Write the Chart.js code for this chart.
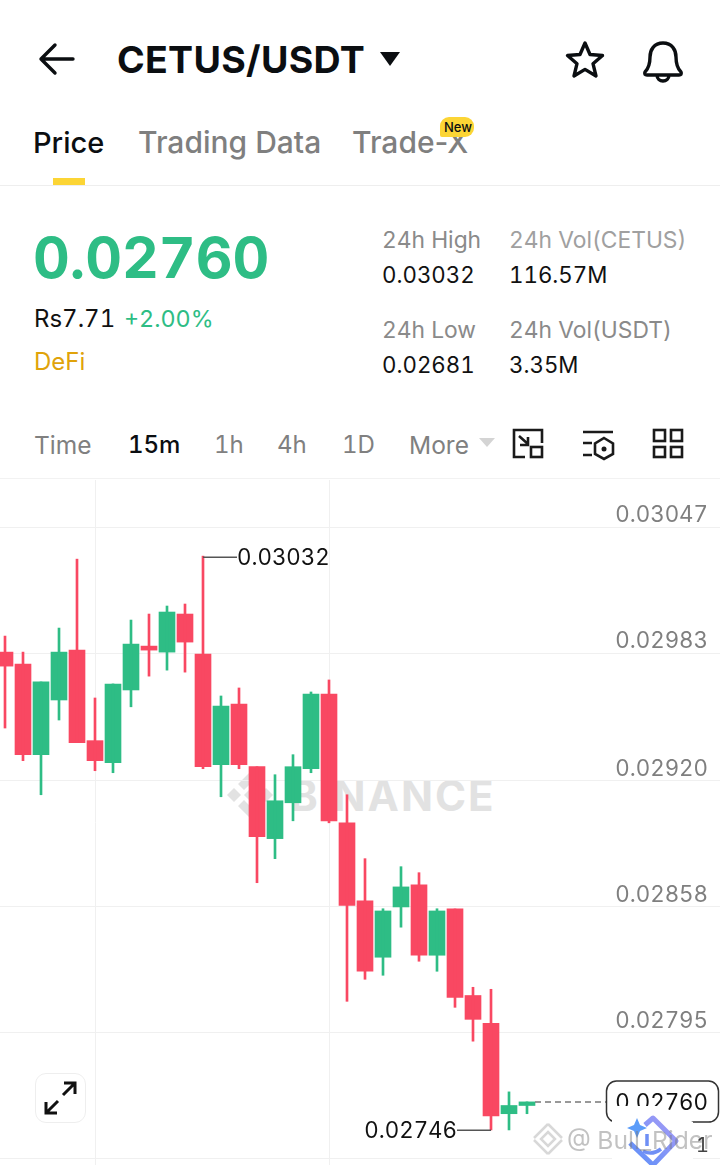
<!DOCTYPE html>
<html>
<head>
<meta charset="utf-8">
<title>CETUS/USDT</title>
<script src="https://cdn.jsdelivr.net/npm/chart.js@4/dist/chart.umd.min.js"></script>
<style>
  html, body { margin: 0; padding: 0; background: #fff; }
  body { width: 720px; height: 1165px; position: relative; overflow: hidden; font-family: Inter, sans-serif; color: #0b0e11; font-variant-numeric: tabular-nums; }
  .t { position: absolute; transform: translateY(-50%); white-space: nowrap; line-height: 1; }
  .gray { color: #7f7f7f; }
  .stat-label { font-size: 22.8px; color: #8a8a8a; }
  .stat-value { font-size: 22.3px; color: #111; }
  .tf { font-size: 24px; color: #808080; }
  svg { position: absolute; overflow: visible; }
  #chart { position: absolute; left: 0; top: 480px; }
</style>
</head>
<body>

<!-- header -->
<svg style="left:0;top:0" width="720" height="200" fill="none" stroke="#0b0e11" stroke-width="3.4" stroke-linecap="round" stroke-linejoin="round">
  <path d="M73 59H41M55 45L41 59L55 73"/>
  <path d="M380 52H400L390 66Z" fill="#0b0e11" stroke="none"/>
  <path d="M585 43l5 11.5 12.5 1-9.5 8.2 3 12.3-11-6.6-11 6.6 3-12.3-9.5-8.2 12.500-1z"/>
  <path d="M663 43c-9 0-13 7-13 14 0 8-2 12-5 15-1 2 0 3 2 3h32c2 0 3-1 2-3-3-3-5-7-5-15 0-7-4-14-13-14zM657 75c0 4 3 6 6 6s6-2 6-6"/>
</svg>
<span class="t" style="left:117px;top:60px;font-size:37.5px;font-weight:700;letter-spacing:0.3px">CETUS/USDT</span>

<span class="t" style="left:33px;top:142px;font-size:29px;font-weight:500">Price</span>
<span class="t gray" style="left:138px;top:142px;font-size:30px;font-weight:500">Trading Data</span>
<span class="t gray" style="left:352px;top:142px;font-size:30px;font-weight:500;font-variant-numeric:normal">Trade-X</span>
<div style="position:absolute;left:440px;top:117px;width:34px;height:20px;background:#fcd535;border-radius:9px 9px 9px 2px"></div>
<span class="t" style="left:444px;top:127px;font-size:13px;font-weight:500">New</span>
<div style="position:absolute;left:53px;top:178px;width:32px;height:7px;background:#fcd535"></div>
<div style="position:absolute;left:0;top:185px;width:720px;height:1px;background:#eeeeee"></div>

<!-- price block -->
<span class="t" style="left:33px;top:257px;font-size:57px;font-weight:700;color:#2ebd85">0.02760</span>
<span class="t" style="left:34px;top:319px;font-size:24px;color:#111">Rs7.71</span>
<span class="t" style="left:124px;top:319px;font-size:23.3px;color:#2ebd85">+2.00%</span>
<span class="t" style="left:34px;top:362px;font-size:24px;color:#e0a30a">DeFi</span>

<span class="t stat-label" style="left:382px;top:240px">24h High</span>
<span class="t stat-value" style="left:382px;top:275px">0.03032</span>
<span class="t stat-label" style="left:382px;top:330px">24h Low</span>
<span class="t stat-value" style="left:382px;top:365px">0.02681</span>
<span class="t stat-label" style="left:509px;top:240px;color:#a0a0a0">24h Vol(CETUS)</span>
<span class="t stat-value" style="left:509px;top:275px">116.57M</span>
<span class="t stat-label" style="left:509px;top:330px">24h Vol(USDT)</span>
<span class="t stat-value" style="left:509px;top:365px">3.35M</span>

<!-- timeframe row -->
<span class="t tf" style="left:34px;top:445px;font-size:24.5px">Time</span>
<span class="t tf" style="left:128px;top:445px;color:#0b0e11;font-weight:500">15m</span>
<span class="t tf" style="left:214px;top:445px">1h</span>
<span class="t tf" style="left:277px;top:445px">4h</span>
<span class="t tf" style="left:342px;top:445px">1D</span>
<span class="t tf" style="left:409px;top:445px;font-size:24.5px">More</span>
<svg style="left:0;top:400px" width="720" height="80" fill="none" stroke="#1a1a1a" stroke-width="2.6">
  <path d="M479 38H495L487 47Z" fill="#d4d4d4" stroke="none"/>
  <path d="M525 57H514V30H542V43M519 36L528 44M528 37V45H520"/>
  <rect x="531" y="47" width="11" height="10"/>
  <path d="M583 32H613M583 43H592M583 55H592"/>
  <path d="M604 38L613 43.500V54L604 59L595 54V43.500Z"/>
  <circle cx="604" cy="49" r="2.500" fill="#1a1a1a" stroke="none"/>
  <rect x="654" y="30" width="11" height="11"/>
  <rect x="671" y="30" width="11" height="11"/>
  <rect x="654" y="47" width="11" height="10"/>
  <rect x="671" y="47" width="11" height="10"/>
</svg>
<div style="position:absolute;left:0;top:478px;width:720px;height:1px;background:#f2f2f2"></div>

<!-- BINANCE watermark sits under the chart -->
<svg style="left:225px;top:770px" width="50" height="50" fill="#e2e2e2">
  <path d="M25 2L37 14L31 20L25 14L19 20L13 14Z"/>
  <path d="M25 48L37 36L31 30L25 36L19 30L13 36Z"/>
  <path d="M2 25L9 18L16 25L9 32Z"/>
  <path d="M48 25L41 18L34 25L41 32Z"/>
  <path d="M25 19L31 25L25 31L19 25Z"/>
</svg>
<span class="t" style="left:290px;top:796px;font-size:42px;font-weight:700;color:#e2e2e2;letter-spacing:2px">BINANCE</span>

<canvas id="chart" width="720" height="685"></canvas>

<!-- expand button -->
<div style="position:absolute;left:35px;top:1073px;width:49px;height:48px;border:1.5px solid #eeeeee;border-radius:11px;background:#fff"></div>
<svg style="left:35px;top:1073px" width="51" height="50" fill="none" stroke="#111" stroke-width="3">
  <path d="M40 10L28 22M29 10H40V21M11 40L23 28M11 29V40H22"/>
</svg>

<!-- bottom right overlay: white patch, blue badge and repost credit -->
<svg style="left:0;top:1075px" width="720" height="90">
  <defs>
    <linearGradient id="badge" x1="0" y1="1" x2="1" y2="0">
      <stop offset="0" stop-color="#5b8ff9"/>
      <stop offset="1" stop-color="#a79bf5"/>
    </linearGradient>
  </defs>
  <path d="M612 90V31H662L693 47V90Z" fill="#fff"/>
  <path d="M645 50L653 43L676 66L653 90L630 68" fill="none" stroke="url(#badge)" stroke-width="5" stroke-linejoin="round"/>
  <path d="M637 43L640 50L647 53L640 56L637 63L634 56L627 53L634 50Z" fill="#5b9cf9"/>
  <path d="M647 59V71M643 76Q652 81 661 74" fill="none" stroke="#6f8ff5" stroke-width="3.500"/>
  <g fill="none" stroke="#d8d8d8" stroke-width="2.500" transform="translate(0,3)">
    <path d="M548 54L555 61L548 68L541 61Z"/>
    <path d="M548 46L562 60M548 76L562 62M548 46L534 60M548 76L534 62"/>
  </g>
</svg>
<span class="t" style="left:567px;top:1140px;font-size:24.6px;color:rgba(120,120,120,0.45)">@ Bull_Rider</span>
<span class="t" style="left:696px;top:1145px;font-size:20px;color:#444">1</span>

<script>
// candles, oldest first, prices
const candleIndex = [0, 1, 2, 3, 4, 5, 6, 7, 8, 9, 10, 11, 12, 13, 14, 15, 16, 17, 18, 19, 20, 21, 22, 23, 24, 25, 26, 27, 28, 29];
const opens = [0.029846, 0.029786, 0.029334, 0.029607, 0.029856, 0.029404, 0.029294, 0.029657, 0.029876, 0.029846, 0.030036, 0.029836, 0.029284, 0.029587, 0.029274, 0.028915, 0.029094, 0.029264, 0.029637, 0.028994, 0.028604, 0.028323, 0.028574, 0.028684, 0.028333, 0.028564, 0.028132, 0.027993, 0.027542, 0.027583];
const closes = [0.029776, 0.029334, 0.029697, 0.029846, 0.029394, 0.029304, 0.029687, 0.029886, 0.029856, 0.030046, 0.029896, 0.029274, 0.029577, 0.029284, 0.028925, 0.029104, 0.029274, 0.029637, 0.029004, 0.028582, 0.028253, 0.028554, 0.028674, 0.028333, 0.028554, 0.028123, 0.028013, 0.027531, 0.027583, 0.027601];
const highs = [0.029926, 0.029846, 0.029697, 0.029966, 0.030310, 0.029617, 0.029687, 0.030006, 0.030036, 0.030076, 0.030086, 0.030325, 0.029627, 0.029667, 0.029274, 0.029234, 0.029334, 0.029647, 0.029707, 0.029134, 0.028815, 0.028565, 0.028775, 0.028745, 0.028565, 0.028564, 0.028173, 0.028163, 0.027651, 0.027601];
const lows = [0.029467, 0.029304, 0.029134, 0.029507, 0.029394, 0.029254, 0.029244, 0.029573, 0.029726, 0.029756, 0.029746, 0.029264, 0.029124, 0.029264, 0.028695, 0.028815, 0.029004, 0.029244, 0.028994, 0.028103, 0.028213, 0.028233, 0.028473, 0.028303, 0.028253, 0.028073, 0.027904, 0.027461, 0.027461, 0.027542];
// the grid is evenly spaced, the labels are the app's rounded values
const gridPrices = [0.03047, 0.029841, 0.029203, 0.028574, 0.027945, 0.027316];
const priceLabels = ["0.03047", "0.02983", "0.02920", "0.02858", "0.02795", ""];
const timeGridAt = [5, 18];

const highMark = { index: 11, price: 0.03032, text: "0.03032" };
const lowMark = { index: 27, price: 0.02746, text: "0.02746" };
const lastPrice = 0.0276;

const up = "#2ebd85";
const down = "#f94862";
const axisFont = { family: "Inter", size: 22.3 };

const colors = opens.map((o, i) => (closes[i] >= o ? up : down));

// high/low callouts and the last price tag
const markers = {
  id: "markers",
  afterDatasetsDraw(chart) {
    const { ctx, scales } = chart;
    const x = scales.x;
    const y = scales.y;
    ctx.save();
    ctx.font = axisFont.size + "px " + axisFont.family;
    ctx.textBaseline = "middle";
    ctx.strokeStyle = "#555";
    ctx.fillStyle = "#111";
    ctx.lineWidth = 1.5;

    const hx = x.getPixelForValue(highMark.index);
    const hy = y.getPixelForValue(highMark.price);
    ctx.beginPath();
    ctx.moveTo(hx, hy);
    ctx.lineTo(hx + 34, hy);
    ctx.stroke();
    ctx.textAlign = "left";
    ctx.fillText(highMark.text, hx + 34, hy + 1);

    const lx = x.getPixelForValue(lowMark.index);
    const ly = y.getPixelForValue(lowMark.price);
    ctx.beginPath();
    ctx.moveTo(lx, ly);
    ctx.lineTo(lx - 34, ly);
    ctx.stroke();
    ctx.textAlign = "right";
    ctx.fillText(lowMark.text, lx - 34, ly + 1);

    const py = y.getPixelForValue(lastPrice);
    ctx.setLineDash([6, 4]);
    ctx.strokeStyle = "#777";
    ctx.beginPath();
    ctx.moveTo(x.getPixelForValue(candleIndex[29]) + 8, py);
    ctx.lineTo(606, py);
    ctx.stroke();
    ctx.setLineDash([]);
    ctx.strokeStyle = "#333";
    ctx.fillStyle = "#fff";
    ctx.beginPath();
    ctx.roundRect(606.5, py - 21, 112, 41, 10);
    ctx.fill();
    ctx.stroke();
    ctx.fillStyle = "#111";
    ctx.textAlign = "right";
    ctx.fillText(lastPrice.toFixed(5), 708, py + 1);
    ctx.restore();
  },
};

new Chart(document.getElementById("chart"), {
  type: "bar",
  data: {
    datasets: [
      {
        data: candleIndex.map((i) => ({ x: i, y: [lows[i], highs[i]] })),
        backgroundColor: colors,
        barThickness: 2,
        grouped: false,
      },
      {
        data: candleIndex.map((i) => ({ x: i, y: [opens[i], closes[i]] })),
        backgroundColor: colors,
        barThickness: 16,
        grouped: false,
      },
    ],
  },
  options: {
    responsive: false,
    animation: false,
    devicePixelRatio: 1,
    layout: { padding: 0 },
    plugins: { legend: { display: false }, tooltip: { enabled: false } },
    scales: {
      x: {
        type: "linear",
        offset: false,
        min: -5 / 18,
        max: 715 / 18,
        border: { display: false },
        grid: { color: "#f0f0f0", offset: false, drawTicks: false },
        ticks: { display: false },
        afterBuildTicks(s) {
          s.ticks = timeGridAt.map((v) => ({ value: v }));
        },
        afterFit(s) {
          s.height = 0;
        },
      },
      y: {
        position: "right",
        min: 0.027286,
        max: 0.030705,
        border: { display: false },
        grid: { color: "#f0f0f0", drawTicks: false },
        ticks: {
          mirror: true,
          padding: -12,
          labelOffset: -11.5,
          color: "#7f7f7f",
          font: axisFont,
          callback: (v, i) => priceLabels[i],
        },
        afterBuildTicks(s) {
          s.ticks = gridPrices.map((v) => ({ value: v }));
        },
        afterFit(s) {
          s.width = 0;
          s.paddingTop = 0;
          s.paddingBottom = 0;
        },
      },
    },
  },
  plugins: [markers],
});
</script>
</body>
</html>
